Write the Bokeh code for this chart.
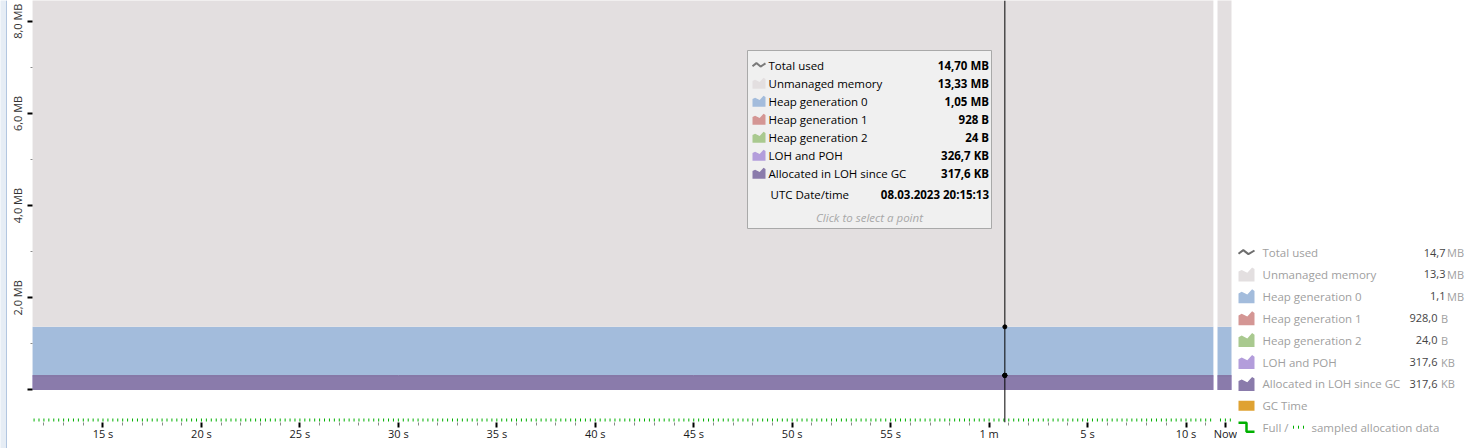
import numpy as np
from bokeh.plotting import figure
from bokeh.models import Range1d, FixedTicker, Span
from bokeh.layouts import row, column
from bokeh.embed import file_html
from bokeh.resources import INLINE
from bokeh.core.properties import value

# ---------------- data ----------------
# time in seconds; the view ends at "Now" (72 s); a short gap before the last samples
time_s = [11.4, 30.0, 45.0, 60.8, 71.39, 71.6, 72.35]
segment = [0, 0, 0, 0, 0, 1, 1]
# memory per series in MB (stack order bottom -> top)
loh_poh_mb = [0.319, 0.319, 0.319, 0.319, 0.319, 0.319, 0.319]
gen2_mb = [0.00002, 0.00002, 0.00002, 0.00002, 0.00002, 0.00002, 0.00002]
gen1_mb = [0.0009, 0.0009, 0.0009, 0.0009, 0.0009, 0.0009, 0.0009]
gen0_mb = [1.05, 1.05, 1.05, 1.05, 1.05, 1.05, 1.05]
unmanaged_mb = [13.33, 13.33, 13.33, 13.33, 13.33, 13.33, 13.33]
alloc_loh_mb = [0.310, 0.310, 0.310, 0.310, 0.310, 0.310, 0.310]
total_mb = [14.70, 14.70, 14.70, 14.70, 14.70, 14.70, 14.70]

cursor_t = 60.8
# sampled allocation data: runs of samples every 0.25 s
sample_runs = [(11.5, 71.25), (71.75, 72.25)]
sample_step = 0.25

y_ticks = [0, 2, 4, 6, 8]
y_minor = [1, 3, 5, 7]
y_labels = ["", "2,0 MB", "4,0 MB", "6,0 MB", "8,0 MB"]
x_ticks = [15, 20, 25, 30, 35, 40, 45, 50, 55, 60, 65, 70, 72]
x_labels = ["15 s", "20 s", "25 s", "30 s", "35 s", "40 s", "45 s", "50 s", "55 s", "1 m", "5 s", "10 s", "Now"]
x_minor = [t for t in range(12, 72) if t not in x_ticks]

tip_names = ["Total used", "Unmanaged memory", "Heap generation 0", "Heap generation 1",
             "Heap generation 2", "LOH and POH", "Allocated in LOH since GC"]
tip_values = ["14,70 MB", "13,33 MB", "1,05 MB", "928 B", "24 B", "326,7 KB", "317,6 KB"]
tip_date = "08.03.2023 20:15:13"
legend_nums = ["14,7", "13,3", "1,1", "928,0", "24,0", "317,6", "317,6"]
legend_units = ["MB", "MB", "MB", "B", "B", "KB", "KB"]

COL_TOTAL = "#707070"
COL_UNM = "#e3dfe0"
COL_G0 = "#a3bcdc"
COL_G1 = "#d49694"
COL_G2 = "#a9c98f"
COL_LOH = "#b39ddb"
COL_ALLOC = "#8a7bab"
COL_GC = "#dfa232"
COL_GREEN = "#00b000"
icon_colors = [COL_TOTAL, COL_UNM, COL_G0, COL_G1, COL_G2, COL_LOH, COL_ALLOC]

FONT = value("Open Sans")
FS = "11.5px"
H = 448

# ---------------- left side strip ----------------
W_STRIP = 7
strip = figure(width=W_STRIP, height=H, x_range=Range1d(0, W_STRIP), y_range=Range1d(0, H),
               output_backend="svg", toolbar_location=None, x_axis_type=None, y_axis_type=None,
               min_border=0)
strip.xgrid.visible = False
strip.ygrid.visible = False
strip.outline_line_color = None
strip.background_fill_color = "#e6edf5"
strip.border_fill_color = "#e6edf5"
strip.segment(x0=[W_STRIP - 0.5], x1=[W_STRIP - 0.5], y0=[0], y1=[H], line_color="#7f9ecb", line_width=1)

# ---------------- main chart ----------------
W_MAIN = 1237 - W_STRIP
FL, FR, FT, FB = 32 - W_STRIP, 6, 0, 26
FW, FH = W_MAIN - FL - FR, H - FT - FB

p = figure(width=W_MAIN, height=H, x_range=Range1d(11.42, 72.31), y_range=Range1d(-0.705, 8.449),
           output_backend="svg", toolbar_location=None,
           min_border_left=FL, min_border_right=FR, min_border_top=FT, min_border_bottom=FB)
p.extra_x_ranges = {"px": Range1d(32, 32 + FW)}
p.extra_y_ranges = {"py": Range1d(FH, 0)}
p.xgrid.visible = False
p.ygrid.visible = False
p.outline_line_color = None
p.background_fill_color = "white"
p.border_fill_color = "white"

t = np.array(time_s)
seg = np.array(segment)
layers = [(loh_poh_mb, COL_LOH), (gen2_mb, COL_G2), (gen1_mb, COL_G1),
          (gen0_mb, COL_G0), (unmanaged_mb, COL_UNM)]
cum = np.zeros(len(t))
tops = []
for vals, col in layers:
    nxt = cum + np.array(vals)
    for s in sorted(set(segment)):
        m = seg == s
        p.varea(x=t[m], y1=cum[m], y2=nxt[m], fill_color=col)
    tops.append(nxt.copy())
    cum = nxt
alloc = np.array(alloc_loh_mb)
for s in sorted(set(segment)):
    m = seg == s
    p.varea(x=t[m], y1=np.zeros(m.sum()), y2=alloc[m], fill_color=COL_ALLOC)
    p.line(x=t[m], y=alloc[m], line_color="#7b6d9c", line_width=1)
    p.line(x=t[m], y=np.array(total_mb)[m], line_color=COL_TOTAL, line_width=1.5)

# sampled allocation data ticks (pixel rows just above the axis)
sx = np.concatenate([np.arange(a, b + 1e-9, sample_step) for a, b in sample_runs])
p.segment(x0=sx, x1=sx, y0=[418] * len(sx), y1=[421] * len(sx), y_range_name="py",
          line_color=COL_GREEN, line_width=1)

# cursor
p.add_layout(Span(location=cursor_t, dimension="height", line_color="black", line_width=1))
ci = time_s.index(cursor_t)
dot_y = [tp[ci] for tp in tops] + [alloc[ci]]
p.scatter(x=[cursor_t] * len(dot_y), y=dot_y, size=4, color="black")

# axes
xa = p.xaxis[0]
xa.ticker = FixedTicker(ticks=x_ticks, minor_ticks=x_minor)
xa.major_label_overrides = dict(zip(x_ticks, x_labels))
xa.axis_line_color = None
xa.major_tick_in = 0
xa.major_tick_out = 5
xa.major_tick_line_width = 2
xa.major_tick_line_color = "black"
xa.minor_tick_in = 0
xa.minor_tick_out = 3
xa.minor_tick_line_color = "#8a8a8a"
xa.major_label_standoff = -2
xa.major_label_text_font = "Open Sans"
xa.major_label_text_font_size = "11px"
xa.major_label_text_color = "#1a1a1a"

ya = p.yaxis[0]
ya.ticker = FixedTicker(ticks=y_ticks, minor_ticks=y_minor)
ya.major_label_overrides = dict(zip(y_ticks, y_labels))
ya.major_label_orientation = "vertical"
ya.axis_line_color = None
ya.major_tick_in = 0
ya.major_tick_out = 5
ya.major_tick_line_width = 2
ya.major_tick_line_color = "black"
ya.minor_tick_in = 0
ya.minor_tick_out = 2
ya.minor_tick_line_color = "#8a8a8a"
ya.major_label_standoff = 2
ya.major_label_text_font = "Open Sans"
ya.major_label_text_font_size = "11px"
ya.major_label_text_color = "#333333"

AREA_PROFILE = [(0, 0.70), (0.2, 0.82), (0.55, 0.62), (0.85, 1.0), (1, 0.88)]
WAVE = [(0, 0.35), (0.3, 0.8), (0.62, 0.3), (1, 0.75)]


def area_icon(x0, cy, w, h):
    xs = [x0] + [x0 + fx * w for fx, _ in AREA_PROFILE] + [x0 + w]
    ys = [cy + h / 2] + [cy + h / 2 - fy * h for _, fy in AREA_PROFILE] + [cy + h / 2]
    return xs, ys


def wave_icon(x0, cy, w, h):
    return [x0 + fx * w for fx, _ in WAVE], [cy + h / 2 - fy * h for _, fy in WAVE]


# tooltip box (page pixel coordinates)
PX = dict(x_range_name="px", y_range_name="py")
p.quad(left=747, right=991, top=50, bottom=228, fill_color="#f0f0f0", line_color="#a9a9a9",
       line_width=1, **PX)
row_y = [64.7 + 18 * i for i in range(len(tip_names))]
for i, (nm, col) in enumerate(zip(tip_names, icon_colors)):
    if i == 0:
        xs, ys = wave_icon(752, row_y[i], 13, 7)
        p.line(xs, ys, line_color="#7a7a7a", line_width=2, **PX)
    else:
        xs, ys = area_icon(752, row_y[i], 13, 11)
        p.patch(xs, ys, fill_color=col, line_color=None, **PX)
p.text(x=[768] * len(tip_names), y=row_y, text=tip_names, text_font=FONT, text_font_size=FS,
       text_baseline="middle", text_color="black", **PX)
p.text(x=[988.5] * len(tip_values), y=row_y, text=tip_values, text_font=FONT, text_font_size=FS,
       text_baseline="middle", text_align="right", text_color="black", text_font_style="bold", **PX)
p.text(x=[770], y=[193.5], text=["UTC Date/time"], text_font=FONT, text_font_size=FS,
       text_baseline="middle", text_color="black", **PX)
p.text(x=[988.5], y=[193.5], text=[tip_date], text_font=FONT, text_font_size=FS,
       text_baseline="middle", text_align="right", text_color="black", text_font_style="bold", **PX)
p.text(x=[869], y=[216.5], text=["Click to select a point"], text_font=FONT, text_font_size=FS,
       text_baseline="middle", text_align="center", text_color="#a8a8a8", text_font_style="italic", **PX)

# ---------------- legend panel ----------------
LX = 1237
W_LEG = 1477 - LX
lg = figure(width=W_LEG, height=H, x_range=Range1d(LX, LX + W_LEG), y_range=Range1d(H, 0),
            output_backend="svg", toolbar_location=None, x_axis_type=None, y_axis_type=None,
            min_border=0)
lg.xgrid.visible = False
lg.ygrid.visible = False
lg.outline_line_color = None
lg.border_fill_color = "white"

leg_y = [252 + 21.9 * i for i in range(9)]
for i, col in enumerate(icon_colors):
    if i == 0:
        xs, ys = wave_icon(1238, leg_y[i], 16, 8)
        lg.line(xs, ys, line_color="#6e6e6e", line_width=2)
    else:
        xs, ys = area_icon(1238, leg_y[i], 16, 14)
        lg.patch(xs, ys, fill_color=col, line_color=None)
lg.quad(left=1238, right=1254, top=leg_y[7] - 5, bottom=leg_y[7] + 5, fill_color=COL_GC, line_color=None)
gy = leg_y[8]
lg.line([1238, 1246, 1246, 1254], [gy - 5, gy - 5, gy + 4, gy + 4], line_color=COL_GREEN, line_width=2.5)
names = tip_names + ["GC Time", "Full /"]
lg.text(x=[1262] * 9, y=leg_y, text=names, text_font=FONT, text_font_size=FS,
        text_baseline="middle", text_color="#a0a0a0")
dx = [1293, 1298, 1303]
lg.segment(x0=dx, x1=dx, y0=[gy - 2] * 3, y1=[gy + 1] * 3, line_color=COL_GREEN, line_width=1)
lg.text(x=[1311], y=[gy], text=["sampled allocation data"], text_font=FONT, text_font_size=FS,
        text_baseline="middle", text_color="#a0a0a0")
num_right = [1445 if u == "MB" else 1437 for u in legend_units]
unit_left = [1446.5 if u == "MB" else 1440.5 for u in legend_units]
lg.text(x=num_right, y=leg_y[:7], text=legend_nums, text_font=FONT, text_font_size="11px",
        text_baseline="middle", text_align="right", text_color="#444444")
lg.text(x=unit_left, y=leg_y[:7], text=legend_units, text_font=FONT, text_font_size="11px",
        text_baseline="middle", text_color="#a0a0a0")

layout = row(column(strip), p, column(lg))
open("out.html", "w").write(file_html(layout, INLINE))
